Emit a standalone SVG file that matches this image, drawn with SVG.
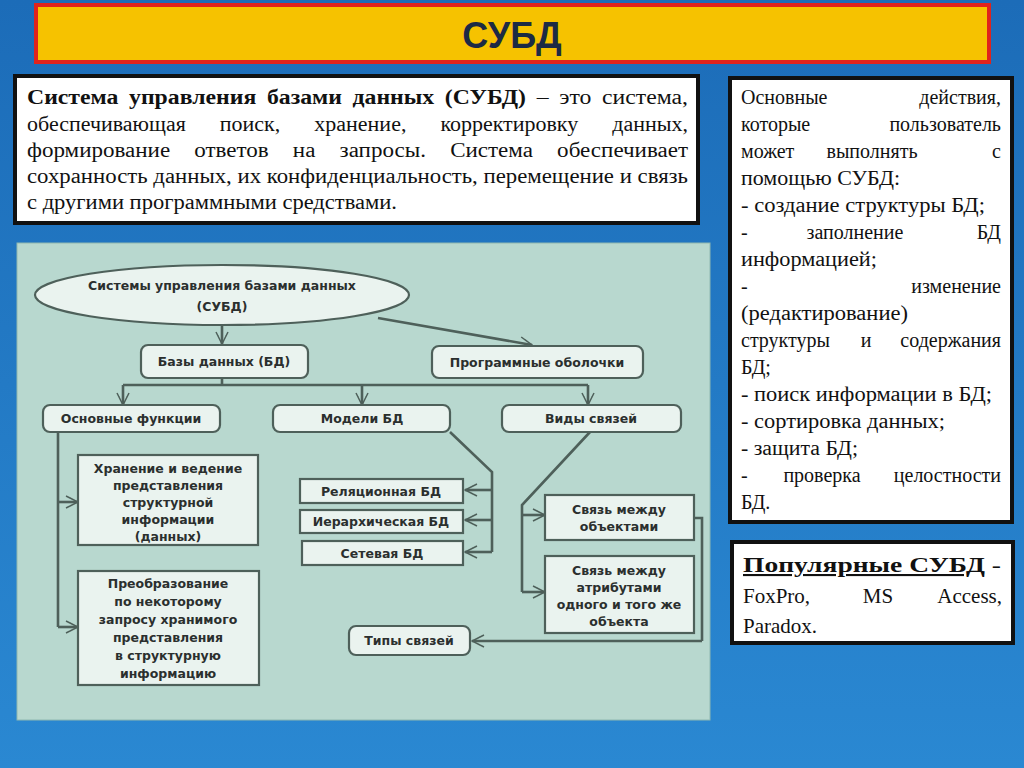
<svg xmlns="http://www.w3.org/2000/svg" width="1024" height="768" viewBox="0 0 1024 768">
<defs>
<linearGradient id="bg" x1="0" y1="0" x2="0" y2="1"><stop offset="0" stop-color="#1c6cb8"/><stop offset="1" stop-color="#2a88d2"/></linearGradient>
<marker id="ah" viewBox="0 0 14 14" refX="13" refY="7" markerWidth="14" markerHeight="14" markerUnits="userSpaceOnUse" orient="auto"><path d="M1,1 L13,7 L1,13 M5,3 L13,7 L5,11" fill="none" stroke="#4e605a" stroke-width="1.5"/></marker>
<style>
.n{fill:#eaf3ef;stroke:#4e605a;stroke-width:2.2}
.t{font-family:"DejaVu Sans",sans-serif;font-weight:bold;font-size:12.5px;fill:#2b2f2e;text-anchor:middle}
.c{fill:none;stroke:#4e605a;stroke-width:2.6;marker-end:url(#ah)}
.l{fill:none;stroke:#4e605a;stroke-width:2.6}
.s{font-family:"Liberation Serif",serif;font-size:20px;fill:#111}
.b{fill:#fff;stroke:#111;stroke-width:4}
</style>
</defs>
<rect width="1024" height="768" fill="url(#bg)"/>
<g id="title"><rect x="36" y="5" width="953" height="57" fill="#f6c200" stroke="#e0231c" stroke-width="4"/>
<text x="512" y="48" text-anchor="middle" font-family="Liberation Sans,sans-serif" font-weight="bold" font-size="36" fill="#1c2a44">СУБД</text></g>
<g id="def"><rect class="b" x="15" y="76" width="683" height="147"/>
<text class="s" x="27" y="104" word-spacing="4" textLength="661" lengthAdjust="spacingAndGlyphs"><tspan font-weight="bold">Система управления базами данных (СУБД)</tspan> – это система,</text>
<text class="s" x="27" y="131" word-spacing="26" textLength="661" lengthAdjust="spacingAndGlyphs">обеспечивающая поиск, хранение, корректировку данных,</text>
<text class="s" x="27" y="157" word-spacing="16" textLength="661" lengthAdjust="spacingAndGlyphs">формирование ответов на запросы. Система обеспечивает</text>
<text class="s" x="27" y="183" textLength="661" lengthAdjust="spacingAndGlyphs">сохранность данных, их конфиденциальность, перемещение и связь</text>
<text class="s" x="27" y="209" textLength="370" lengthAdjust="spacingAndGlyphs">с другими программными средствами.</text></g>
<g id="actions"><rect class="b" x="730" y="78" width="282" height="444"/>
<g class="s">
<text x="741" y="104">Основные</text><text x="1001" y="104" text-anchor="end">действия,</text>
<text x="741" y="131">которые</text><text x="1001" y="131" text-anchor="end">пользователь</text>
<text x="741" y="158">может</text><text x="872" y="158" text-anchor="middle">выполнять</text><text x="1001" y="158" text-anchor="end">с</text>
<text x="741" y="185" textLength="159" lengthAdjust="spacingAndGlyphs">помощью СУБД:</text>
<text x="741" y="212" textLength="244" lengthAdjust="spacingAndGlyphs">- создание структуры БД;</text>
<text x="741" y="239">-</text><text x="855" y="239" text-anchor="middle">заполнение</text><text x="1001" y="239" text-anchor="end">БД</text>
<text x="741" y="266" textLength="136" lengthAdjust="spacingAndGlyphs">информацией;</text>
<text x="741" y="293">-</text><text x="1001" y="293" text-anchor="end">изменение</text>
<text x="741" y="320" textLength="167" lengthAdjust="spacingAndGlyphs">(редактирование)</text>
<text x="741" y="347">структуры</text><text x="866" y="347" text-anchor="middle">и</text><text x="1001" y="347" text-anchor="end">содержания</text>
<text x="741" y="374">БД;</text>
<text x="741" y="401" textLength="251" lengthAdjust="spacingAndGlyphs">- поиск информации в БД;</text>
<text x="741" y="428" textLength="204" lengthAdjust="spacingAndGlyphs">- сортировка данных;</text>
<text x="741" y="455" textLength="117" lengthAdjust="spacingAndGlyphs">- защита БД;</text>
<text x="741" y="482">-</text><text x="822" y="482" text-anchor="middle">проверка</text><text x="1001" y="482" text-anchor="end">целостности</text>
<text x="741" y="509">БД.</text></g></g>
<g id="popular"><rect class="b" x="732" y="542" width="281" height="101"/>
<g font-family="Liberation Serif,serif" font-size="21" fill="#111">
<text x="743" y="572" textLength="258" lengthAdjust="spacingAndGlyphs"><tspan font-weight="bold" text-decoration="underline">Популярные СУБД</tspan> -</text>
<text x="743" y="603">FoxPro,</text><text x="878" y="603" text-anchor="middle">MS</text><text x="1002" y="603" text-anchor="end">Access,</text>
<text x="743" y="633">Paradox.</text></g></g>
<rect x="17" y="243" width="693" height="477" fill="#b8d8cf" stroke="#8fb8b0" stroke-width="1"/>
<g id="connectors">
<path class="c" d="M222,326 V344"/>
<path class="c" d="M378,318 L532,345"/>
<path class="l" d="M222,378 V385 M123,385 H588"/>
<path class="c" d="M123,385 V405"/><path class="c" d="M362,385 V405"/><path class="c" d="M588,385 V405"/>
<path class="l" d="M58,432 V627"/>
<path class="c" d="M58,502 H78"/><path class="c" d="M58,627 H78"/>
<path class="l" d="M450,432 L492,472 V552"/>
<path class="c" d="M492,490 H465"/><path class="c" d="M492,520 H465"/><path class="c" d="M492,552 H465"/>
<path class="l" d="M590,432 L522,505 V592"/>
<path class="c" d="M522,515 H545"/><path class="c" d="M522,592 H545"/>
<path class="l" d="M694,518 H702 V641"/><path class="c" d="M702,641 H472"/>
</g>
<g id="root"><ellipse class="n" cx="222" cy="295" rx="187" ry="30"/><text class="t" x="222" y="290">Системы управления базами данных</text><text class="t" x="222" y="311">(СУБД)</text></g>
<g id="bd"><rect class="n" x="141" y="345" width="167" height="33" rx="7"/><text class="t" x="224" y="366">Базы данных (БД)</text></g>
<g id="po"><rect class="n" x="432" y="346" width="211" height="32" rx="7"/><text class="t" x="537" y="367">Программные оболочки</text></g>
<g id="of"><rect class="n" x="43" y="405" width="177" height="27" rx="7"/><text class="t" x="131" y="423">Основные функции</text></g>
<g id="mb"><rect class="n" x="273" y="405" width="177" height="27" rx="7"/><text class="t" x="362" y="423">Модели БД</text></g>
<g id="vs"><rect class="n" x="502" y="405" width="179" height="27" rx="7"/><text class="t" x="591" y="423">Виды связей</text></g>
<g id="hr"><rect class="n" x="78" y="455" width="180" height="90"/>
<text class="t" x="168" y="473">Хранение и ведение</text><text class="t" x="168" y="490">представления</text><text class="t" x="168" y="507">структурной</text><text class="t" x="168" y="524">информации</text><text class="t" x="168" y="541">(данных)</text></g>
<g id="pr"><rect class="n" x="78" y="571" width="181" height="114"/>
<text class="t" x="168" y="588">Преобразование</text><text class="t" x="168" y="606">по некоторому</text><text class="t" x="168" y="624">запросу хранимого</text><text class="t" x="168" y="642">представления</text><text class="t" x="168" y="660">в структурную</text><text class="t" x="168" y="678">информацию</text></g>
<g id="rel"><rect class="n" x="300" y="479" width="163" height="24"/><text class="t" x="381" y="496">Реляционная БД</text></g>
<g id="ier"><rect class="n" x="300" y="510" width="163" height="23"/><text class="t" x="381" y="526">Иерархическая БД</text></g>
<g id="set"><rect class="n" x="302" y="541" width="161" height="24"/><text class="t" x="382" y="558">Сетевая БД</text></g>
<g id="so"><rect class="n" x="545" y="495" width="149" height="45"/><text class="t" x="619" y="514">Связь между</text><text class="t" x="619" y="531">объектами</text></g>
<g id="sa"><rect class="n" x="545" y="556" width="149" height="77"/><text class="t" x="619" y="575">Связь между</text><text class="t" x="619" y="592">атрибутами</text><text class="t" x="619" y="609">одного и того же</text><text class="t" x="619" y="626">объекта</text></g>
<g id="ts"><rect class="n" x="349" y="626" width="121" height="29" rx="7"/><text class="t" x="409" y="645">Типы связей</text></g>
</svg>
